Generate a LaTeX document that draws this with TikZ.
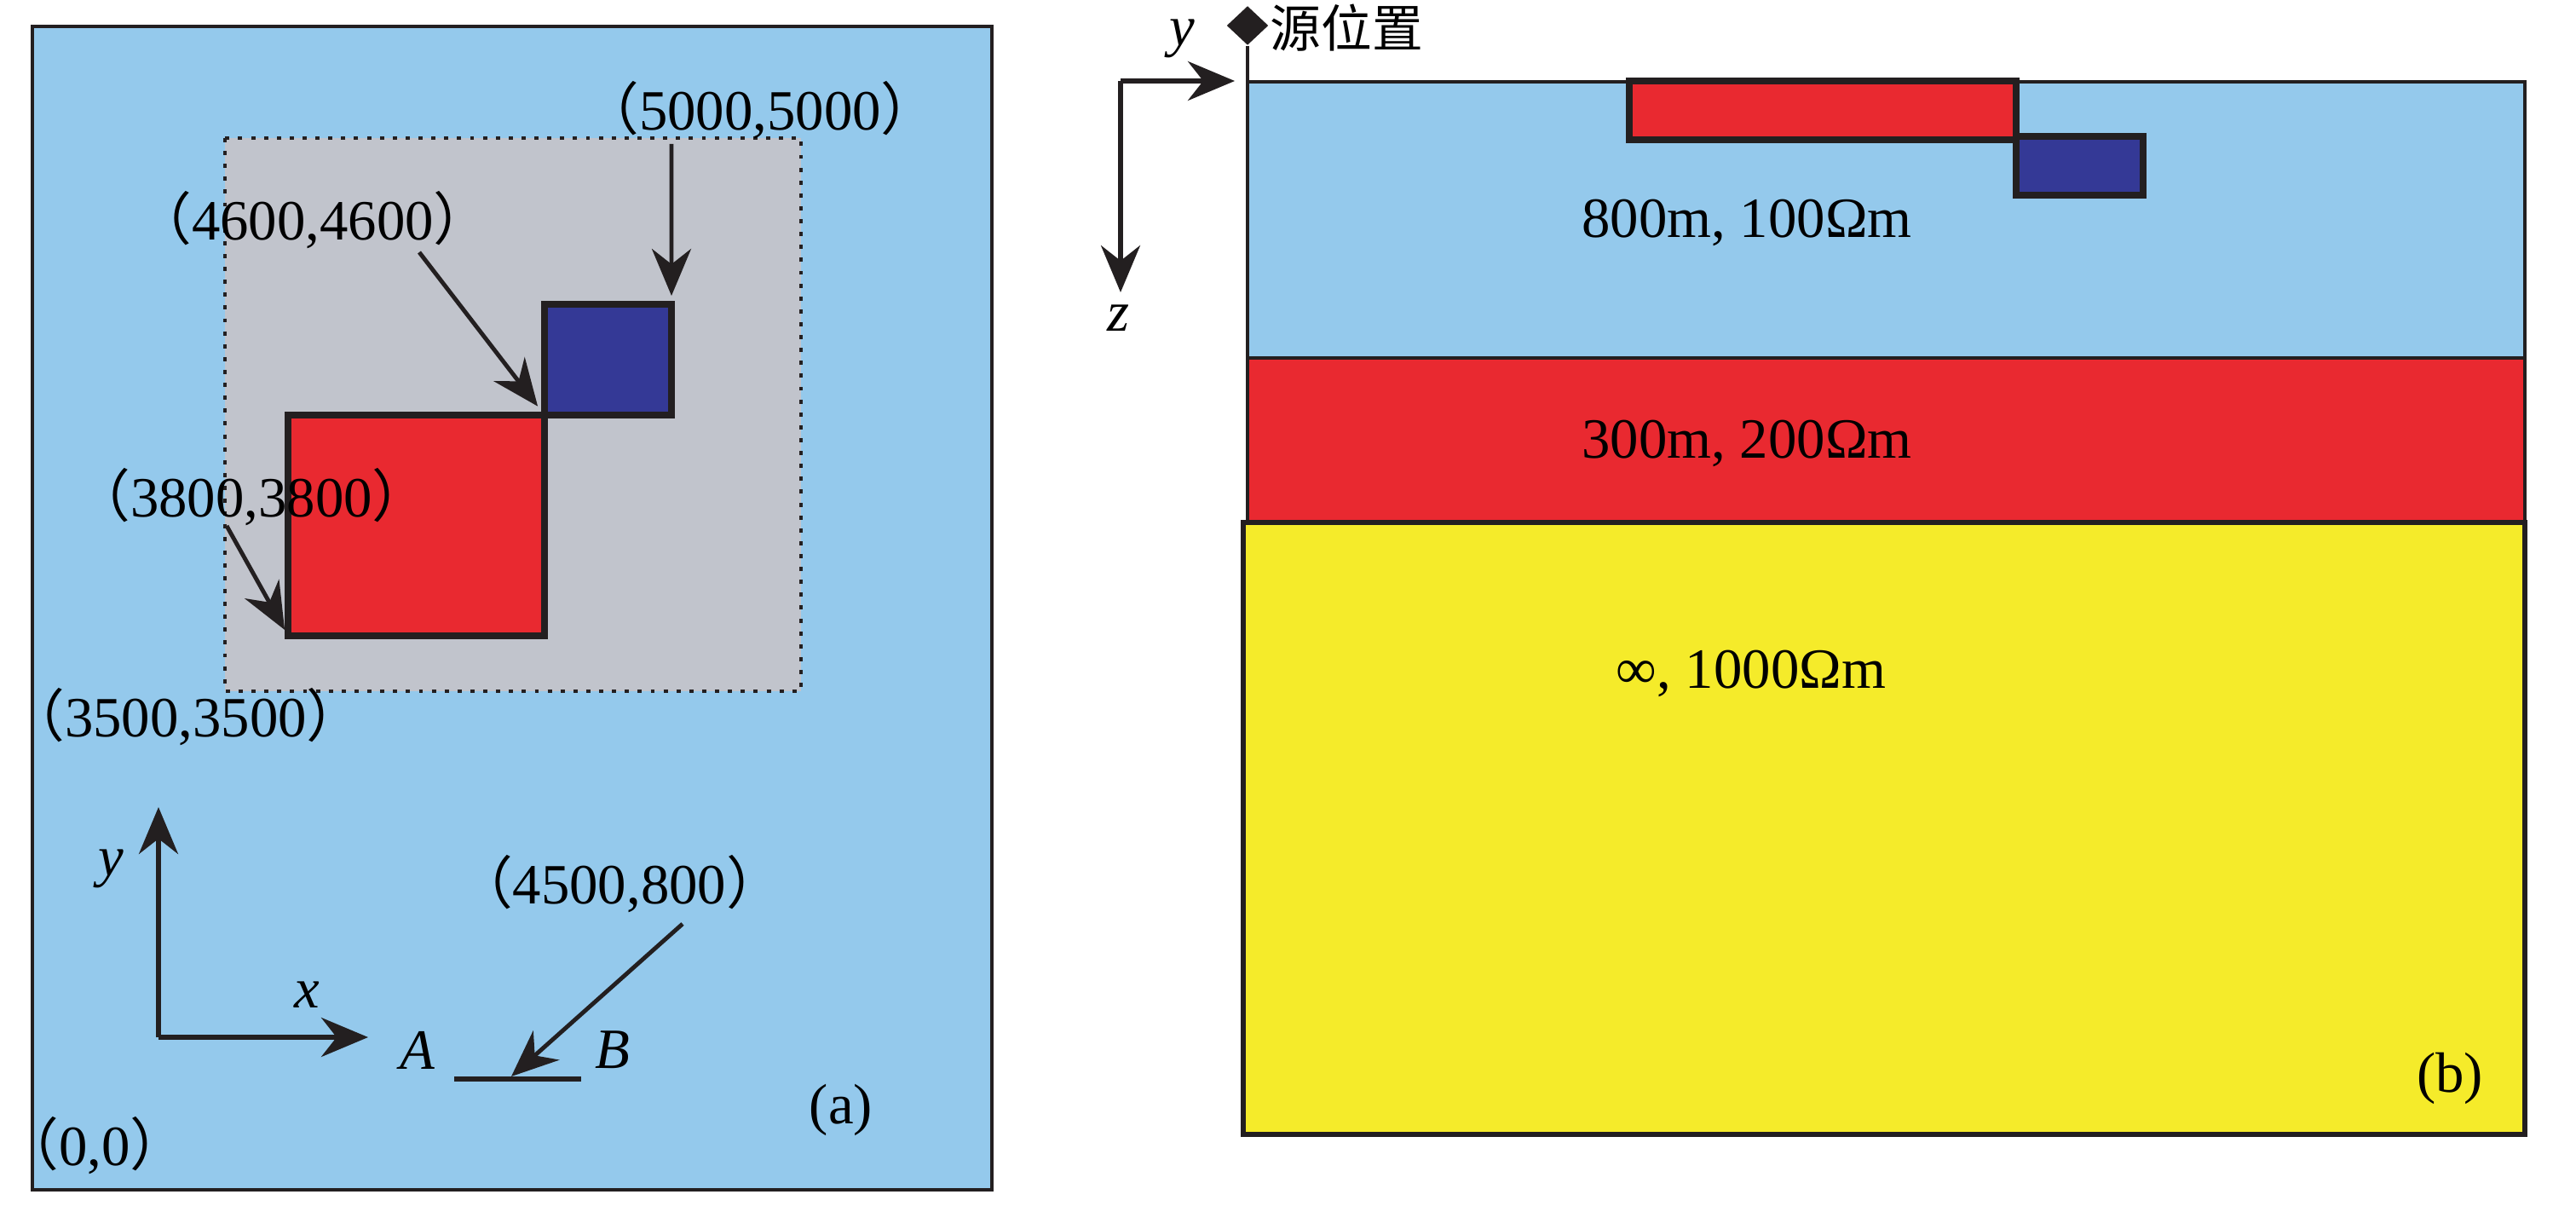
\documentclass[tikz,border=0pt]{standalone}
\usepackage{fontspec}
\setmainfont{Liberation Serif}
\newfontfamily\cjk{Noto Sans CJK SC}
\usepackage{tikz}
\usetikzlibrary{arrows.meta,shapes.geometric}

\definecolor{skyA}{RGB}{148,201,236}
\definecolor{greyA}{RGB}{193,196,204}
\definecolor{redA}{RGB}{233,41,48}
\definecolor{blueA}{RGB}{52,57,150}
\definecolor{yellowA}{RGB}{245,235,42}
\definecolor{inkA}{RGB}{35,31,32}
\newcommand{\fwpar}[1]{{\cjk （}#1{\cjk ）}}

\begin{document}
\begin{tikzpicture}[font=\fontsize{19}{22}\selectfont,
    ptr/.style={draw=inkA,line width=1.4pt,-{Stealth[length=5.5mm,width=4.6mm,inset=1.8mm]}},
    blk/.style={draw=inkA,line width=2pt,inner sep=0pt,outer sep=0pt},
    lab/.style={inner sep=1pt}]
        % \draw[help lines] (0,0) grid (30,-14);
        \useasboundingbox (0,0) rectangle (30.23,-14.15);

        % (a) plan view
        \filldraw[fill=skyA,draw=inkA,line width=1.4pt] (0.38,-0.31) rectangle (11.64,-13.96);
        \filldraw[fill=greyA,draw=inkA,line width=1.4pt,dash pattern=on 1.4pt off 2.9pt] (2.64,-1.62) rectangle (9.40,-8.11);
        \node[blk,fill=redA,minimum width=3.01cm,minimum height=2.59cm] at (4.885,-6.165) (redsq) {};
        \node[blk,fill=blueA,minimum width=1.49cm,minimum height=1.30cm] at (7.135,-4.22) (bluesq) {};

        \node[lab] at (8.92,-1.29) (l5000) {\fwpar{5000,5000}};
        \node[lab] at (3.67,-2.58) (l4600) {\fwpar{4600,4600}};
        \node[lab] at (2.95,-5.83) (l3800) {\fwpar{3800,3800}};
        \node[lab] at (2.18,-8.41) (l3500) {\fwpar{3500,3500}};
        \node[lab] at (7.27,-10.37) (l4500) {\fwpar{4500,800}};
        \node[lab] at (1.11,-13.44) (l00) {\fwpar{0,0}};
        \node[lab] at (9.87,-13.02) (pa) {(a)};

        \coordinate (s5000) at (7.88,-1.69);
        \coordinate (s4600) at (4.92,-2.96);
        \coordinate (s3800) at (2.66,-6.17);
        \coordinate (s4500) at (8.01,-10.84);
        \coordinate (A) at (5.33,-12.66);
        \coordinate (B) at (6.82,-12.66);
        \coordinate (rx) at (6.00,-12.63);

        \draw[ptr,shorten >=1mm] (s5000) -- (bluesq.north east);
        \draw[ptr,shorten >=1.3mm] (s4600) -- (redsq.north east);
        \draw[ptr,shorten >=0.8mm] (s3800) -- (redsq.south west);
        \draw[ptr] (s4500) -- (rx);
        \draw[inkA,line width=1.8pt] (A) -- (B);
        \node[lab] at (4.90,-12.32) (la) {\textit{A}};
        \node[lab] at (7.19,-12.32) (lb) {\textit{B}};

        \coordinate (o1) at (1.86,-12.17);
        \coordinate (x1) at (4.32,-12.17);
        \coordinate (y1) at (1.86,-9.47);
        \draw[ptr,line width=1.5pt] (o1) -- (x1);
        \draw[ptr,line width=1.5pt] (o1) -- (y1);
        \node[lab] at (3.60,-11.67) (lx1) {\textit{x}};
        \node[lab] at (1.30,-10.19) (ly1) {\textit{y}};

        % (b) section
        \filldraw[fill=skyA,draw=inkA,line width=1.3pt] (14.64,-0.96) rectangle (29.63,-4.20);
        \filldraw[fill=redA,draw=inkA,line width=1.3pt] (14.64,-4.20) rectangle (29.63,-6.13);
        \filldraw[fill=yellowA,draw=inkA,line width=1.5pt] (14.59,-6.13) rectangle (29.63,-13.31);
        \filldraw[fill=redA,draw=inkA,line width=2.2pt] (19.12,-0.95) rectangle (23.66,-1.64);
        \filldraw[fill=blueA,draw=inkA,line width=2.2pt] (23.66,-1.60) rectangle (25.15,-2.29);

        \node[diamond,fill=inkA,inner sep=0pt,minimum width=0.49cm,minimum height=0.46cm] at (14.64,-0.30) (src) {};
        \node[anchor=west,inner sep=0pt,font=\fontsize{17}{20}\selectfont] at (14.90,-0.33) (srclab) {\cjk 源位置};
        \coordinate (srcfoot) at (14.64,-0.96);
        \draw[inkA,line width=1.3pt] (src.south) -- (srcfoot);

        \coordinate (o2) at (13.15,-0.95);
        \coordinate (y2) at (14.49,-0.95);
        \coordinate (z2) at (13.15,-3.43);
        \draw[ptr,line width=1.5pt] (o2) -- (y2);
        \draw[ptr,line width=1.5pt] (o2) -- (z2);
        \node[lab] at (13.87,-0.45) (ly2) {\textit{y}};
        \node[lab] at (13.12,-3.73) (lz2) {\textit{z}};

        \node[lab] at (20.50,-2.61) (lay1) {800m, 100Ωm};
        \node[lab] at (20.50,-5.20) (lay2) {300m, 200Ωm};
        \node[lab] at (20.55,-7.90) (lay3) {∞, 1000Ωm};
        \node[lab] at (28.75,-12.65) (pb) {(b)};
    \end{tikzpicture}
\end{document}
